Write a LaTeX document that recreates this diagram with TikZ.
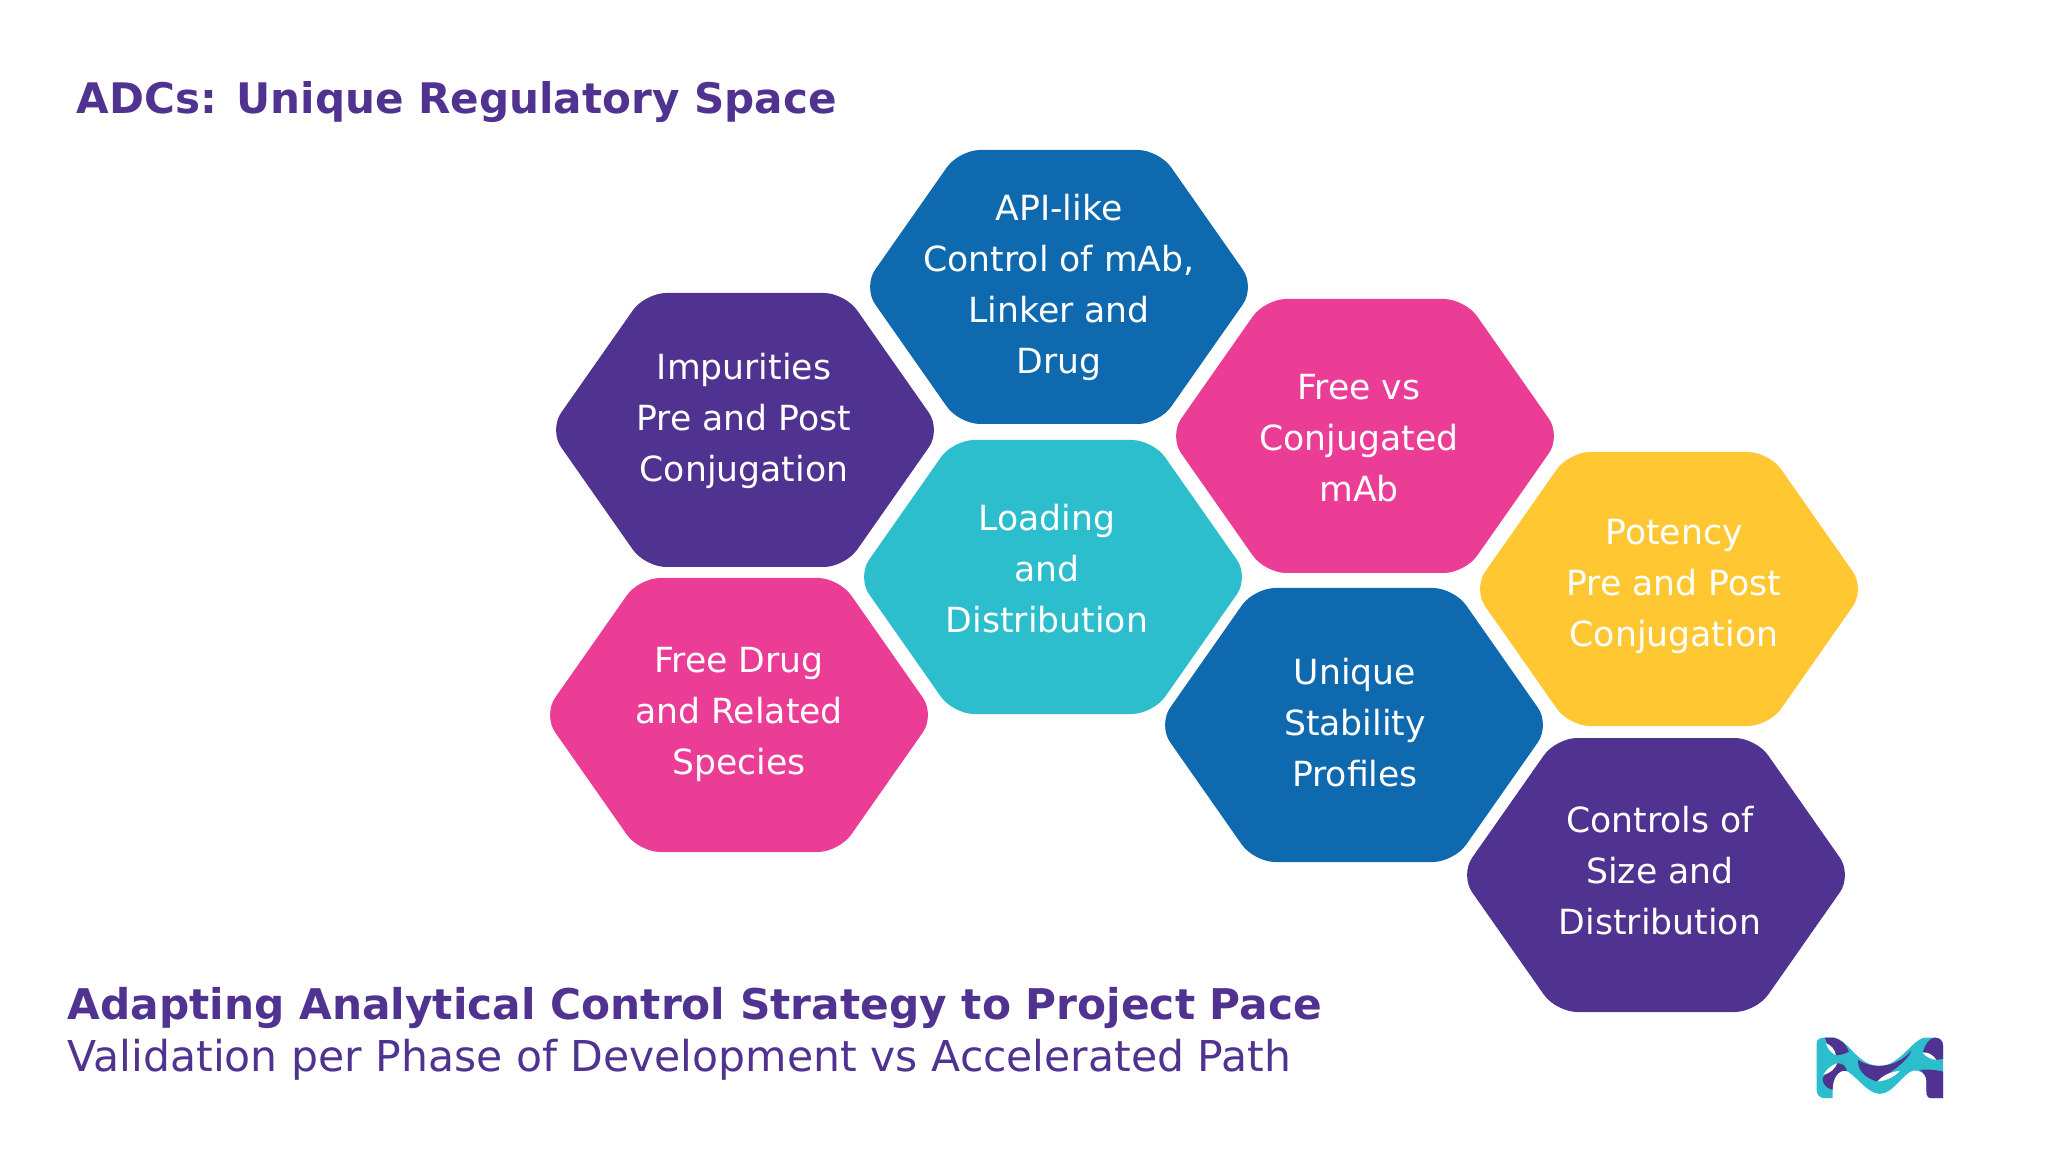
\documentclass[tikz,border=0pt]{standalone}
\usepackage{fontspec}
\setmainfont{DejaVu Sans}
\definecolor{mpurple}{HTML}{503291}
\definecolor{mblue}{HTML}{0F69AF}
\definecolor{mpink}{HTML}{EB3C96}
\definecolor{mteal}{HTML}{2DBECD}
\definecolor{myellow}{HTML}{FFC832}
\tikzset{
    hexlabel/.style={text=white, align=center, font=\fontsize{9.85}{14.5}\selectfont},
    headline/.style={anchor=base west, inner sep=0pt, text=mpurple},
}
% x y colour name textx texty text
\newcommand{\hexcell}[7]{
    \fill[#3, rounded corners=6pt] (#1-196,#2) -- (#1-100,#2-137) -- (#1+100,#2-137) -- (#1+196,#2) -- (#1+100,#2+137) -- (#1-100,#2+137) -- cycle;
    \node[hexlabel] (#4) at (#5,#6) {#7};
}
\begin{document}
\begin{tikzpicture}[x=0.01cm, y=-0.01cm]
    \useasboundingbox (0,0) rectangle (2048,1152);

    \hexcell{1059}{287}{mblue}{apilike}{1059}{287}{API-like\\Control of mAb,\\Linker and\\Drug}
    \hexcell{745}{430}{mpurple}{impurities}{744}{421}{Impurities\\Pre and Post\\Conjugation}
    \hexcell{1365}{436}{mpink}{freevs}{1359}{438}{Free vs\\Conjugated\\mAb}
    \hexcell{1053}{577}{mteal}{loading}{1047}{569}{Loading\\and\\Distribution}
    \hexcell{1669}{589}{myellow}{potency}{1674}{586}{Potency\\Pre and Post\\Conjugation}
    \hexcell{739}{715}{mpink}{freedrug}{739}{714}{Free Drug\\and Related\\Species}
    \hexcell{1354}{725}{mblue}{stability}{1355}{723}{Unique\\Stability\\Profiles}
    \hexcell{1656}{875}{mpurple}{controls}{1660}{871}{Controls of\\Size and\\Distribution}

    \node[headline, font=\fontsize{11.97}{15}\selectfont\bfseries] (title) at (76,114) {ADCs: Unique Regulatory Space};
    \node[headline, font=\fontsize{12.03}{15}\selectfont\bfseries] (pace) at (67,1019) {Adapting Analytical Control Strategy to Project Pace};
    \node[headline, font=\fontsize{12.1}{15}\selectfont] (path) at (67,1071) {Validation per Phase of Development vs Accelerated Path};

    % logo
    \begin{scope}[shift={(1780,1010)}, x=0.00333cm, y=-0.00333cm]
        \fill[mteal] (110,100) .. controls (110,88) and (120,83) .. (135,83) -- (160,83) .. controls (210,90) and (230,168) .. (300,168) .. controls (360,168) and (395,90) .. (435,83) -- (465,83) .. controls (480,83) and (490,92) .. (490,108) -- (490,265) -- (455,265) .. controls (445,265) and (440,258) .. (440,245) -- (440,215) .. controls (440,190) and (420,180) .. (400,182) .. controls (370,190) and (340,252) .. (300,252) .. controls (260,252) and (220,185) .. (195,182) .. controls (170,180) and (158,205) .. (158,240) -- (158,265) -- (135,265) .. controls (120,265) and (110,255) .. (110,240) -- cycle;
        \fill[mpurple] (135,83) -- (160,83) .. controls (185,88) and (200,105) .. (207,125) .. controls (195,132) and (180,136) .. (168,136) .. controls (155,125) and (140,105) .. (135,83) -- cycle;
        \fill[mpurple] (128,205) .. controls (140,185) and (155,170) .. (172,160) .. controls (185,160) and (197,165) .. (201,183) .. controls (175,178) and (158,205) .. (158,240) .. controls (140,235) and (128,225) .. (128,205) -- cycle;
        \fill[mpurple] (235,150) .. controls (270,175) and (345,180) .. (395,122) .. controls (385,150) and (350,175) .. (292,215) .. controls (255,205) and (232,180) .. (235,150) -- cycle;
        \fill[mpurple] (430,125) .. controls (437,100) and (450,85) .. (465,83) .. controls (480,83) and (490,92) .. (490,108) -- (490,147) -- (468,150) .. controls (455,145) and (440,135) .. (430,125) -- cycle;
        \fill[mpurple] (420,180) .. controls (445,178) and (470,180) .. (490,185) -- (490,265) -- (455,265) .. controls (445,265) and (440,258) .. (440,245) -- (440,215) .. controls (440,200) and (432,188) .. (420,180) -- cycle;
        \fill[white] (138,100) .. controls (155,105) and (165,120) .. (168,136) .. controls (152,128) and (142,115) .. (138,100) -- cycle;
        \fill[white] (130,195) .. controls (140,178) and (155,165) .. (172,160) .. controls (165,178) and (150,190) .. (130,195) -- cycle;
        \fill[white] (292,215) .. controls (310,195) and (335,185) .. (360,183) .. controls (345,200) and (320,213) .. (292,215) -- cycle;
        \fill[white] (428,128) .. controls (445,125) and (460,135) .. (470,150) .. controls (452,148) and (438,140) .. (428,128) -- cycle;
    \end{scope}
\end{tikzpicture}
\end{document}
